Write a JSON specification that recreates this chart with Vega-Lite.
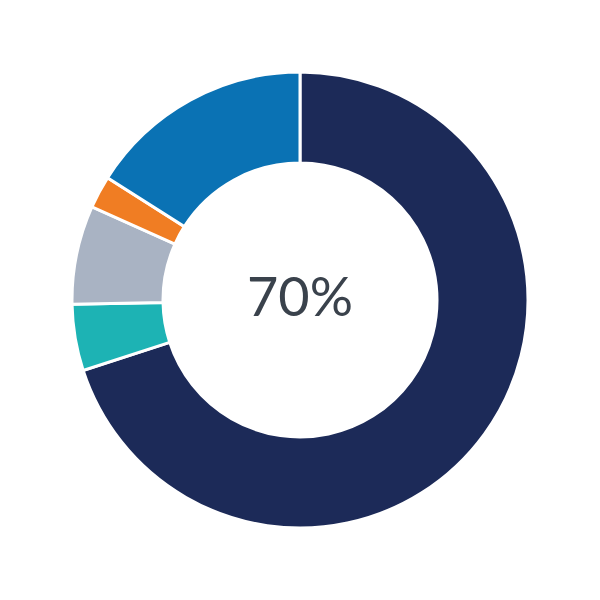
{
  "$schema": "https://vega.github.io/schema/vega-lite/v6.json",
  "autosize": {"type": "fit", "contains": "padding"},
  "width": 600,
  "height": 600,
  "padding": 0,
  "background": "white",
  "view": {"stroke": null},
  "data": {
    "values": [
      {"segment": "A", "rank": 1, "value": 70},
      {"segment": "B", "rank": 2, "value": 4.7},
      {"segment": "C", "rank": 3, "value": 7.0},
      {"segment": "D", "rank": 4, "value": 2.3},
      {"segment": "E", "rank": 5, "value": 16.0}
    ]
  },
  "layer": [
    {
      "mark": {"type": "arc", "radius": 228, "radius2": 137, "stroke": "white", "strokeWidth": 3},
      "encoding": {
        "theta": {"field": "value", "type": "quantitative", "stack": true},
        "order": {"field": "rank", "type": "quantitative"},
        "color": {
          "field": "segment",
          "type": "nominal",
          "scale": {
            "domain": ["A", "B", "C", "D", "E"],
            "range": ["#1c2a58", "#1db3b4", "#a9b3c3", "#f07d23", "#0a72b4"]
          },
          "legend": null
        }
      }
    },
    {
      "data": {"values": [{"label": "70%"}]},
      "mark": {"type": "text", "font": "Lato", "fontSize": 54, "color": "#3a424c", "align": "center", "baseline": "middle"},
      "encoding": {"text": {"field": "label"}}
    }
  ]
}
